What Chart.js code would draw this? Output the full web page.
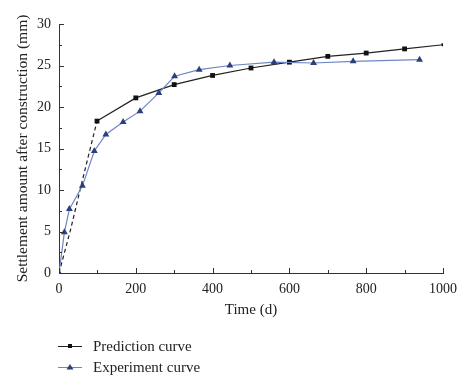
<!DOCTYPE html>
<html>
<head>
<meta charset="utf-8">
<script src="https://cdn.jsdelivr.net/npm/chart.js@4.4.1/dist/chart.umd.min.js"></script>
<style>
html,body{margin:0;padding:0;background:#fff;}
#wrap{position:relative;width:474px;height:391px;}
</style>
</head>
<body>
<div id="wrap"><canvas id="c" width="474" height="391"></canvas></div>
<script>
const predX = [0, 30, 60, 99, 200, 300, 400, 500, 600, 700, 800, 900, 1000];
const predY = [0, 5.2, 11.0, 18.3, 21.1, 22.7, 23.8, 24.7, 25.4, 26.1, 26.5, 27.0, 27.5];
const expX = [0, 14, 27, 61, 92, 122, 167, 211, 260, 301, 365, 445, 560, 663, 766, 939];
const expY = [0, 4.9, 7.7, 10.5, 14.7, 16.7, 18.2, 19.5, 21.7, 23.7, 24.5, 25.0, 25.4, 25.3, 25.5, 25.7];
const xTicks = [0, 200, 400, 600, 800, 1000];
const yTicks = [0, 5, 10, 15, 20, 25, 30];
const legendLabels = ['Prediction curve', 'Experiment curve'];

const SERIF = '"Liberation Serif", "Times New Roman", serif';
const predLine = '#222222', predMark = '#111111';
const expLine = '#6f86c2', expMark = '#2b3f7f';

const inwardTicks = {
  id: 'inwardTicks',
  afterDraw(chart) {
    const ctx = chart.ctx, xs = chart.scales.x, ys = chart.scales.y;
    ctx.save();
    ctx.strokeStyle = '#333';
    ctx.lineWidth = 1;
    for (let v = 0; v <= 1000; v += 100) {
      const px = Math.round(xs.getPixelForValue(v)) + 0.5;
      const len = v % 200 === 0 ? 5 : 3;
      ctx.beginPath(); ctx.moveTo(px, ys.bottom); ctx.lineTo(px, ys.bottom - len); ctx.stroke();
    }
    for (let v = 0; v <= 30; v += 2.5) {
      const py = Math.round(ys.getPixelForValue(v)) + 0.5;
      const len = v % 5 === 0 ? 5 : 3;
      ctx.beginPath(); ctx.moveTo(xs.left, py); ctx.lineTo(xs.left + len, py); ctx.stroke();
    }
    // legend
    const items = [
      {label: legendLabels[0], line: predLine, mark: predMark, style: 'rect', y: 346},
      {label: legendLabels[1], line: expLine, mark: expMark, style: 'triangle', y: 367}
    ];
    ctx.font = '15px ' + SERIF;
    ctx.textBaseline = 'middle';
    items.forEach(it => {
      ctx.strokeStyle = it.line; ctx.lineWidth = 1;
      ctx.beginPath(); ctx.moveTo(58, it.y + 0.5); ctx.lineTo(82, it.y + 0.5); ctx.stroke();
      ctx.fillStyle = it.mark;
      if (it.style === 'rect') { ctx.fillRect(68, it.y - 2, 4, 4); }
      else { ctx.beginPath(); ctx.moveTo(70, it.y - 3); ctx.lineTo(73.5, it.y + 2.5); ctx.lineTo(66.5, it.y + 2.5); ctx.closePath(); ctx.fill(); }
      ctx.fillStyle = '#222';
      ctx.fillText(it.label, 93, it.y + 1);
    });
    ctx.restore();
  }
};

new Chart(document.getElementById('c'), {
  type: 'scatter',
  data: {
    datasets: [
      {
        label: legendLabels[0],
        data: predX.map((x, i) => ({x, y: predY[i]})),
        showLine: true,
        borderColor: predLine,
        borderWidth: 1.2,
        backgroundColor: predMark,
        pointStyle: 'rect',
        pointRadius: ctx => { const x = predX[ctx.dataIndex]; return x < 99 ? 0 : (x === 1000 ? 2 : 3.4); },
        pointBorderWidth: 0,
        segment: { borderDash: ctx => ctx.p1.parsed.x <= 99 ? [4, 3] : undefined },
        order: 2
      },
      {
        label: legendLabels[1],
        data: expX.map((x, i) => ({x, y: expY[i]})),
        showLine: true,
        borderColor: expLine,
        borderWidth: 1.2,
        backgroundColor: expMark,
        pointStyle: 'triangle',
        pointRadius: 4,
        pointBorderWidth: 0,
        order: 1
      }
    ]
  },
  options: {
    responsive: false,
    animation: false,
    layout: { padding: { left: 14, top: 24, right: 31, bottom: 68 } },
    plugins: { legend: { display: false }, tooltip: { enabled: false } },
    scales: {
      x: {
        type: 'linear', min: 0, max: 1000,
        afterBuildTicks: s => { s.ticks = xTicks.map(v => ({value: v})); },
        afterFit: s => { s.height = 50; },
        grid: { display: true, drawOnChartArea: false, drawTicks: false, color: 'rgba(0,0,0,0)' },
        border: { display: true, color: '#333', width: 1 },
        ticks: { color: '#222', font: { family: SERIF, size: 14 }, padding: 8, maxRotation: 0, callback: v => String(v) },
        title: { display: true, text: 'Time (d)', color: '#222', font: { family: SERIF, size: 15 }, padding: { top: 0, bottom: 4 } }
      },
      y: {
        type: 'linear', min: 0, max: 30,
        afterBuildTicks: s => { s.ticks = yTicks.map(v => ({value: v})); },
        afterFit: s => { s.width = 45; },
        grid: { display: true, drawOnChartArea: false, drawTicks: false, color: 'rgba(0,0,0,0)' },
        border: { display: true, color: '#333', width: 1 },
        ticks: { color: '#222', font: { family: SERIF, size: 14 }, padding: 8, callback: v => String(v) },
        title: { display: true, text: 'Settlement amount after construction (mm)', color: '#222', font: { family: SERIF, size: 15.5 }, padding: { top: 0, bottom: 0 } }
      }
    }
  },
  plugins: [inwardTicks]
});
</script>
</body>
</html>
